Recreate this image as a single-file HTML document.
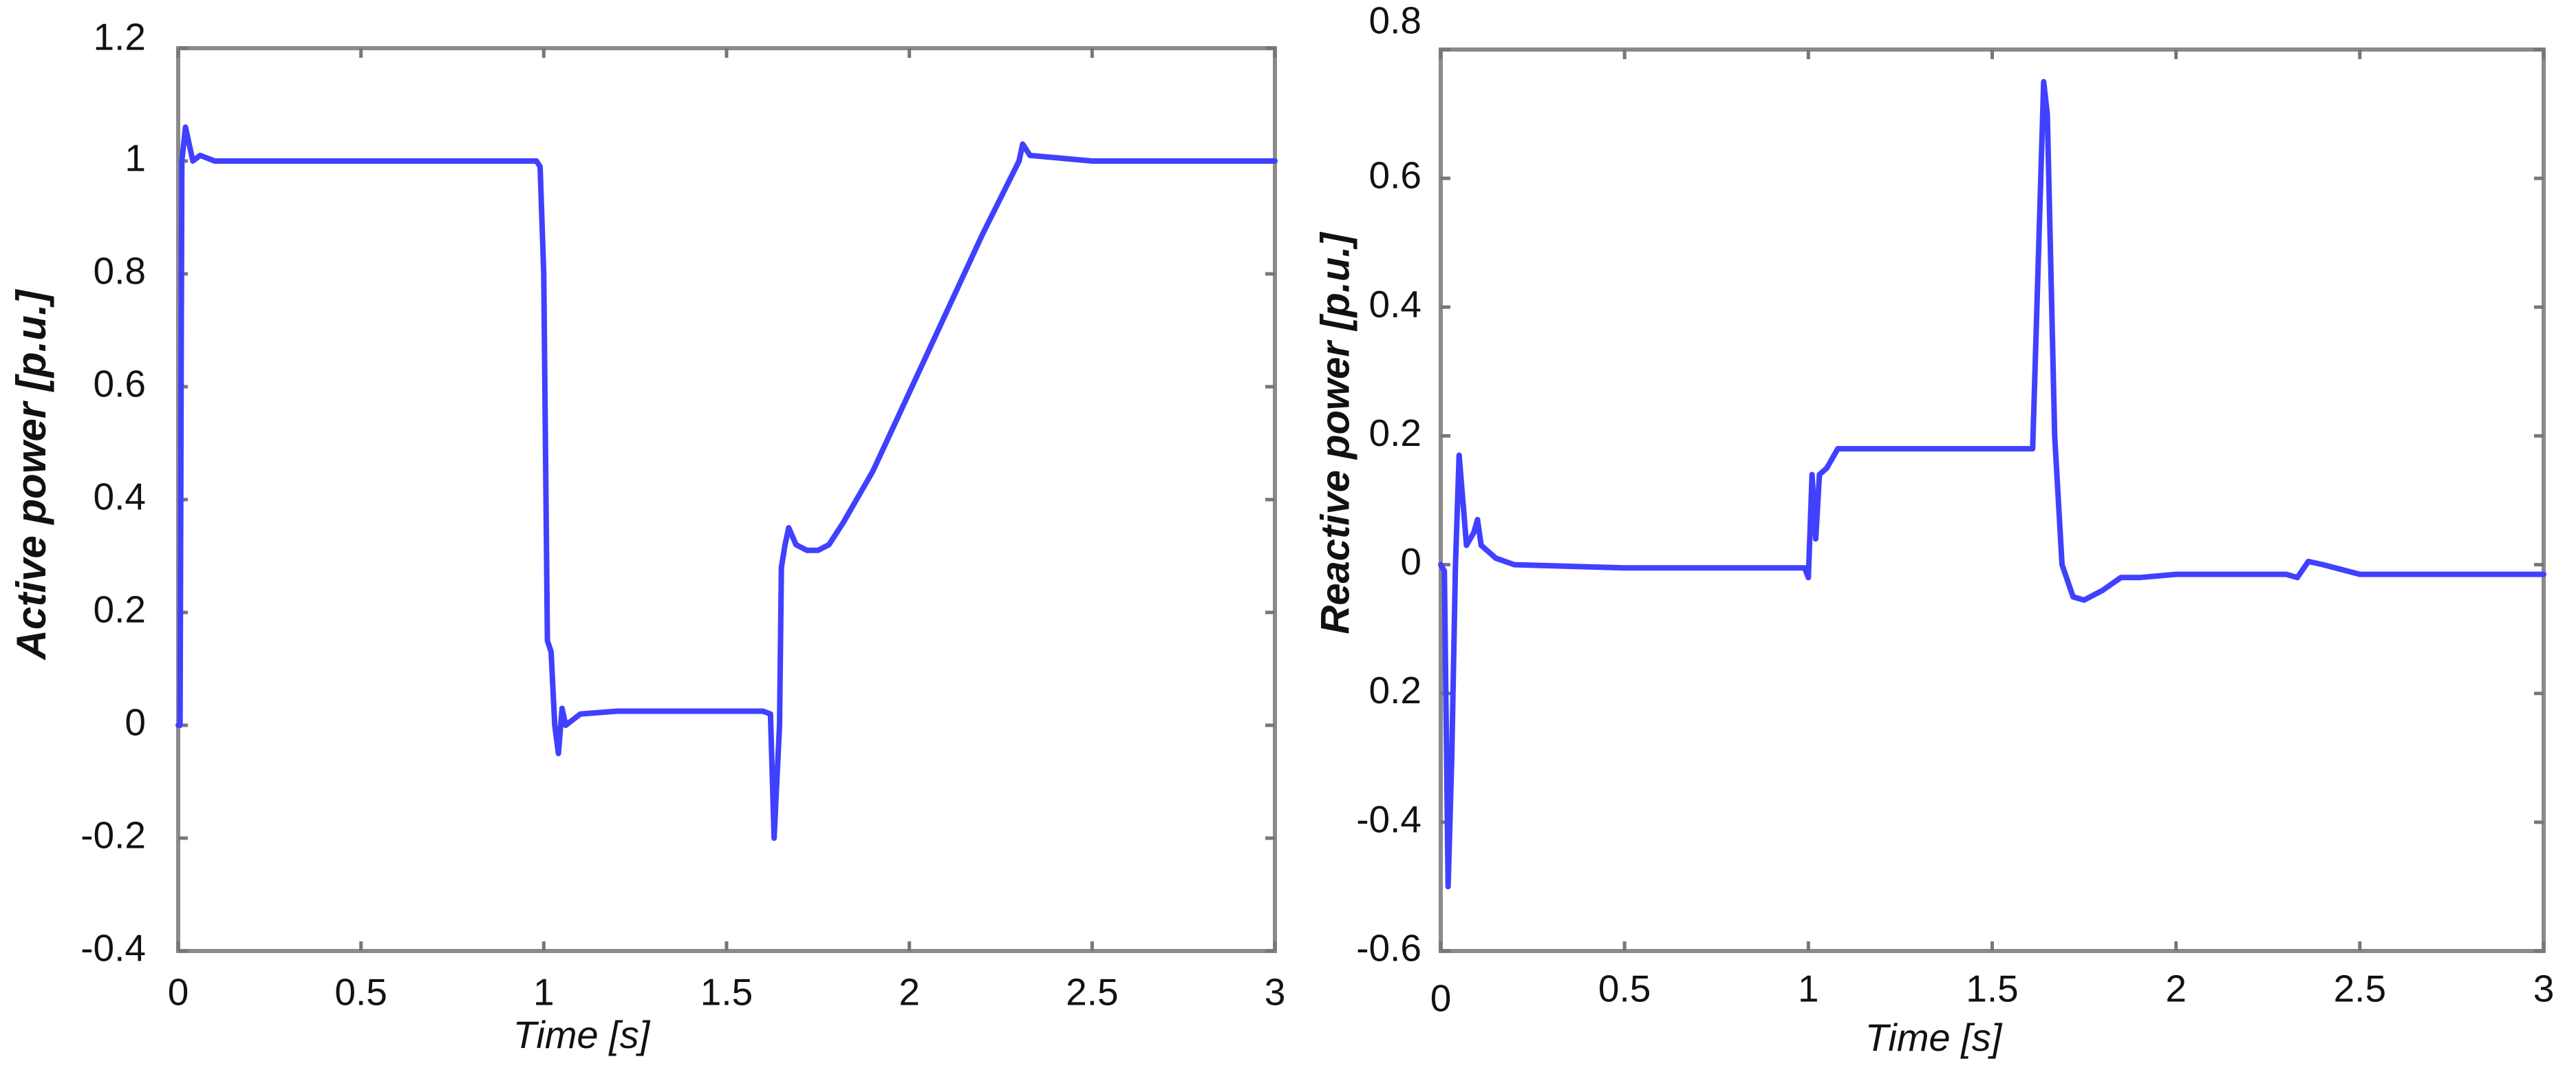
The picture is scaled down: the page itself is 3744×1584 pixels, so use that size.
<!DOCTYPE html>
<html><head><meta charset="utf-8"><style>
html,body{margin:0;padding:0;background:#fff}
svg{display:block}
text{font-family:"Liberation Sans",sans-serif;fill:#111}
.tk{font-size:55px}
</style></head><body>
<svg id="s" width="3744" height="1584" viewBox="0 0 3744 1584" xmlns="http://www.w3.org/2000/svg"></svg>
<script>
const activeT=[0,0.005,0.01,0.02,0.03,0.04,0.06,0.1,0.98,0.99,1.0,1.01,1.02,1.03,1.04,1.05,1.06,1.1,1.2,1.6,1.62,1.63,1.645,1.65,1.66,1.67,1.69,1.72,1.75,1.78,1.82,1.9,2.0,2.1,2.2,2.3,2.31,2.33,2.5,3.0];
const activeP=[0,0,1.0,1.06,1.03,1.0,1.01,1.0,1.0,0.99,0.8,0.15,0.13,0.0,-0.05,0.03,0.0,0.02,0.025,0.025,0.02,-0.2,0.0,0.28,0.32,0.35,0.32,0.31,0.31,0.32,0.36,0.45,0.59,0.73,0.87,1.0,1.03,1.01,1.0,1.0];
const reactT=[0,0.01,0.02,0.03,0.04,0.05,0.06,0.07,0.09,0.1,0.11,0.15,0.2,0.5,0.99,1.0,1.01,1.02,1.03,1.05,1.08,1.6,1.61,1.64,1.65,1.67,1.69,1.72,1.75,1.8,1.85,1.9,2.0,2.3,2.33,2.36,2.4,2.5,3.0];
const reactQ=[0,-0.01,-0.5,-0.3,0.0,0.17,0.1,0.03,0.05,0.07,0.03,0.01,0.0,-0.005,-0.005,-0.02,0.14,0.04,0.14,0.15,0.18,0.18,0.18,0.75,0.7,0.2,0.0,-0.05,-0.055,-0.04,-0.02,-0.02,-0.015,-0.015,-0.02,0.005,0.0,-0.015,-0.015];
const xTicks=[0,0.5,1,1.5,2,2.5,3];
const xTickLabels=["0","0.5","1","1.5","2","2.5","3"];
const leftYTicks=[1.2,1,0.8,0.6,0.4,0.2,0,-0.2,-0.4];
const leftYLabels=["1.2","1","0.8","0.6","0.4","0.2","0","-0.2","-0.4"];
const rightYTicks=[0.8,0.6,0.4,0.2,0,-0.2,-0.4,-0.6];
const rightYLabels=["0.8","0.6","0.4","0.2","0","0.2","-0.4","-0.6"];

const NS="http://www.w3.org/2000/svg";
const svg=document.getElementById('s');
function mk(tag,attrs,parent){const e=document.createElementNS(NS,tag);for(const k in attrs)e.setAttribute(k,attrs[k]);(parent||svg).appendChild(e);return e;}

function panel(cfg){
  const g=mk('g',{});
  
  
  const xs=v=>cfg.x0+(v-0)/(3-0)*(cfg.x1-cfg.x0);
  const ys=v=>cfg.y0-(v-cfg.ymin)/(cfg.ymax-cfg.ymin)*(cfg.y0-cfg.y1);
  const box=mk('rect',{x:cfg.x0,y:cfg.y1,width:cfg.x1-cfg.x0,height:cfg.y0-cfg.y1,fill:'none',stroke:'#8a8a8a','stroke-width':6},g);
  
  
  xTicks.forEach((t,i)=>{
    const x=xs(t);
    mk('line',{x1:x,x2:x,y1:cfg.y0,y2:cfg.y0-14,stroke:'#777','stroke-width':5},g);
    mk('line',{x1:x,x2:x,y1:cfg.y1,y2:cfg.y1+14,stroke:'#777','stroke-width':5},g);
    const tx=mk('text',{x:x,y:cfg.xly+(i===0?cfg.zeroDrop:0),'text-anchor':'middle','dominant-baseline':'middle',class:'tk'},g);
    tx.textContent=xTickLabels[i];
    
    
  });
  cfg.yt.forEach((t,i)=>{
    const y=ys(t);
    mk('line',{x1:cfg.x0,x2:cfg.x0+14,y1:y,y2:y,stroke:'#777','stroke-width':5},g);
    mk('line',{x1:cfg.x1,x2:cfg.x1-14,y1:y,y2:y,stroke:'#777','stroke-width':5},g);
    const tx=mk('text',{x:cfg.ylx,y:y+(i===0?cfg.topDrop:0),'text-anchor':'end','dominant-baseline':'middle',class:'tk'},g);
    tx.textContent=cfg.yl[i];
    
    
  });
  let d='';
  cfg.t.forEach((t,i)=>{d+=(i?'L':'M')+xs(t).toFixed(1)+','+ys(cfg.v[i]).toFixed(1);});
  const p=mk('path',{d:d,fill:'none',stroke:'#4040ff','stroke-width':8,'stroke-linejoin':'round','stroke-linecap':'round'},g);
  
  
  const xt=mk('text',{x:cfg.xtx,y:cfg.xty,'text-anchor':'middle','dominant-baseline':'middle','font-size':56,'font-style':'italic'},g);
  xt.textContent='Time [s]';
  
  
  const yt=mk('text',{x:0,y:0,'text-anchor':'middle','dominant-baseline':'middle','font-size':cfg.ytfs,'font-style':'italic','font-weight':'bold',transform:`translate(${cfg.ytx},${cfg.yty}) rotate(-90)`},g);
  yt.textContent=cfg.ytitle;
  
  
}
panel({name:'active-power-chart',lineName:'active-power-line',x0:259,x1:1853,y0:1382,y1:70,ymin:-0.4,ymax:1.2,yt:leftYTicks,yl:leftYLabels,t:activeT,v:activeP,ylx:212,xly:1446,zeroDrop:0,topDrop:-12,xtx:845,xty:1508,ytx:50,yty:690,ytitle:'Active power [p.u.]',ytfs:60});
panel({name:'reactive-power-chart',lineName:'reactive-power-line',x0:2094,x1:3697,y0:1382,y1:72,ymin:-0.6,ymax:0.8,yt:rightYTicks,yl:rightYLabels,t:reactT,v:reactQ,ylx:2066,xly:1441,zeroDrop:14,topDrop:-38,xtx:2810,xty:1512,ytx:1945,yty:630,ytitle:'Reactive power [p.u.]',ytfs:58});
</script>
</body></html>
